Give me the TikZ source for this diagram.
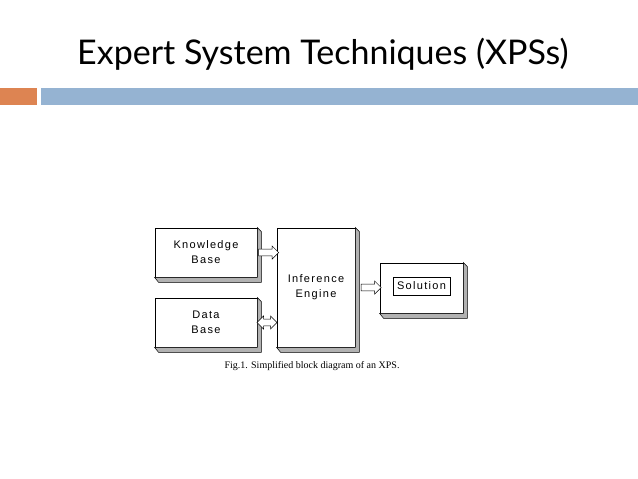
\documentclass[tikz,border=0pt]{standalone}
\usepackage{fontspec}
\setmainfont{Liberation Serif}
\newfontfamily\boxfont[LetterSpace=12]{Liberation Sans}
\newfontfamily\titlefont{Lato}
\usetikzlibrary{shapes.arrows,calc}
\definecolor{orangebar}{RGB}{221,132,82}
\definecolor{bluebar}{RGB}{149,179,210}
\tikzset{
  blk/.style={draw=black,fill=white,line width=0.8pt,align=center,font=\boxfont\fontsize{11}{15}\selectfont,inner sep=0pt},
  side/.style={fill=black!30,draw=black,line width=0.5pt},
  harrow/.style={single arrow,draw=black,fill=white,line width=0.5pt,minimum height=20pt,minimum width=13pt,single arrow head extend=2pt,inner sep=1.8pt},
  darrow/.style={double arrow,draw=black,fill=white,line width=0.5pt,minimum height=20pt,minimum width=13pt,double arrow head extend=2pt,inner sep=1.8pt}
}
\newcommand{\boxshade}[1]{%
  \path[side] (#1.north east) -- ++(4pt,-4pt) -- ($(#1.south east)+(4pt,-5pt)$) -- ($(#1.south west)+(4pt,-5pt)$) -- (#1.south west) -- (#1.south east) -- cycle;}
\begin{document}
\begin{tikzpicture}[x=1pt,y=-1pt]
\useasboundingbox (0,0) rectangle (638,479);
\fill[white] (0,0) rectangle (638,479);
\node[anchor=base west,inner sep=0pt,font=\titlefont\fontsize{34}{40}\selectfont] (title) at (77,64) {Expert System Techniques (XPSs)};
\fill[orangebar] (0,88) rectangle (37,105);
\fill[bluebar] (41,88) rectangle (638,105);
\node[blk,minimum width=102pt,minimum height=49pt] (kb) at (206,252.5) {Knowledge\\Base};
\node[blk,minimum width=102pt,minimum height=49pt] (db) at (206,322.5) {Data\\Base};
\node[blk,minimum width=78pt,minimum height=119pt] (ie) at (316,287.5) {Inference\\Engine};
\node[blk,minimum width=83pt,minimum height=50pt] (sol) at (421.5,288) {};
\boxshade{kb}\boxshade{db}\boxshade{ie}\boxshade{sol}
\node[draw=black,line width=0.6pt,minimum width=57pt,minimum height=18pt,inner sep=0pt,font=\boxfont\fontsize{11}{13}\selectfont,anchor=center] (soltxt) at (421.5,286) {Solution};
\node[harrow] (a1) at ($(kb.east)!0.5!(kb.east -| ie.west)$) {};
\node[darrow] (a2) at ($(db.east)!0.5!(db.east -| ie.west)$) {};
\node[harrow,minimum height=20pt] (a3) at ($(ie.east)!0.5!(ie.east -| sol.west)+(2,0)$) {};
\node[font=\fontsize{10}{12}\selectfont] (cap) at (312,366) {Fig.1. Simplified block diagram of an XPS.};
\end{tikzpicture}
\end{document}
